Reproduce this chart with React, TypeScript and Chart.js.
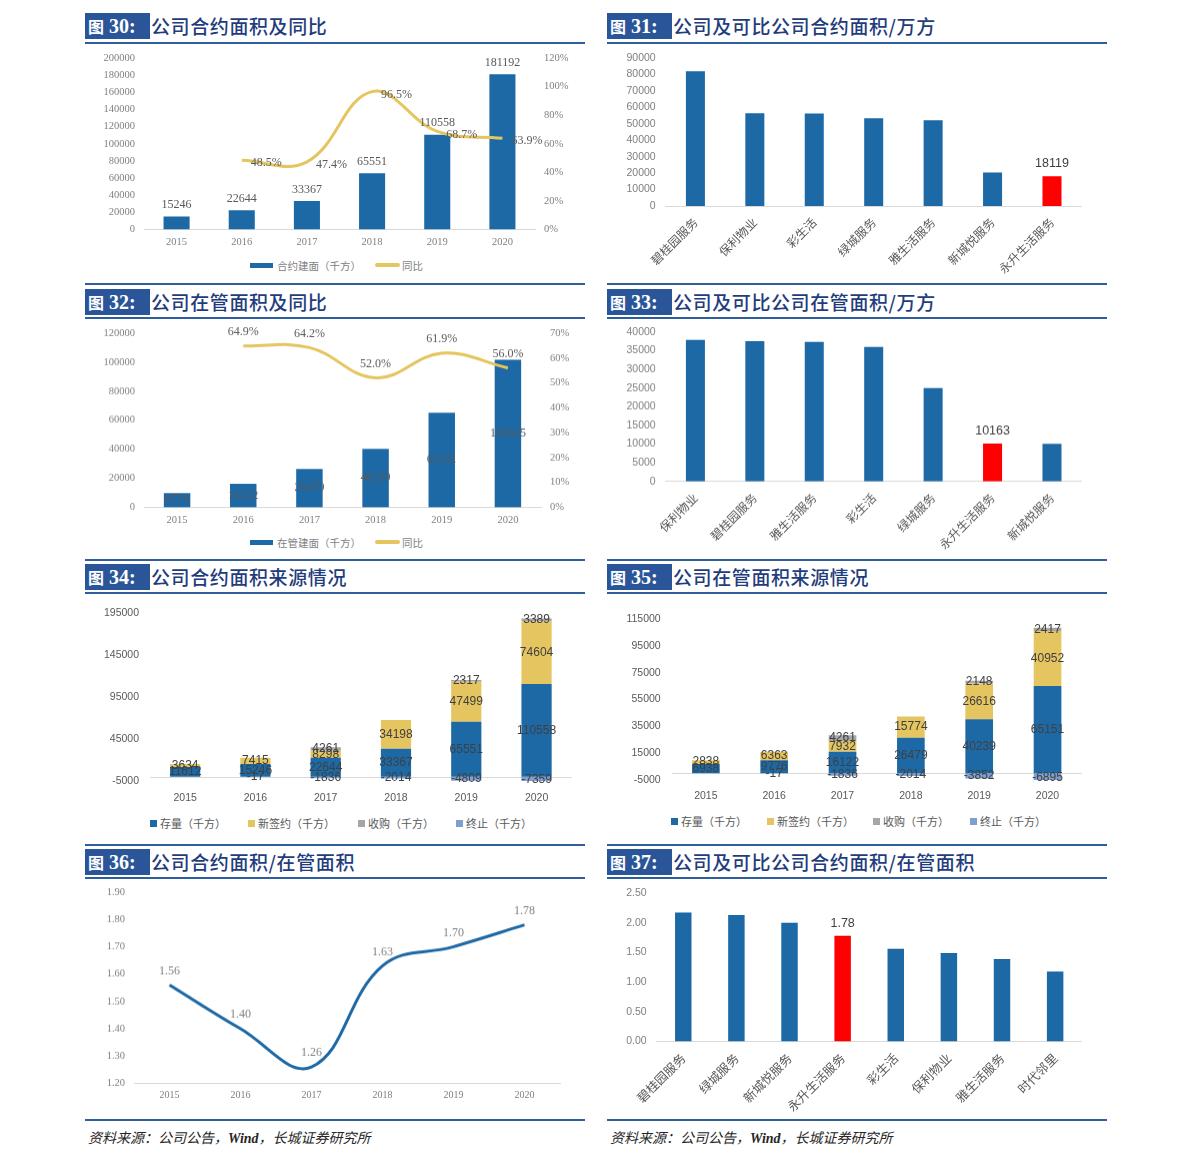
import React, { useEffect, useRef } from 'react';
import { Chart, registerables } from 'chart.js';

Chart.register(...registerables);

// ---------------- data ----------------
const YEARS = ['2015', '2016', '2017', '2018', '2019', '2020'];

const C30_AREA = [15246, 22644, 33367, 65551, 110558, 181192];
const C30_YOY = [null, 48.5, 47.4, 96.5, 68.7, 63.9];

const C31_COMPANIES = ['碧桂园服务', '保利物业', '彩生活', '绿城服务', '雅生活服务', '新城悦服务', '永升生活服务'];
const C31_VALUES = [82000, 56400, 56200, 53300, 52100, 20300, 18119];

const C32_AREA = [9776, 16122, 26479, 40239, 65151, 101625];
const C32_YOY = [null, 64.9, 64.2, 52.0, 61.9, 56.0];

const C33_COMPANIES = ['保利物业', '碧桂园服务', '雅生活服务', '彩生活', '绿城服务', '永升生活服务', '新城悦服务'];
const C33_VALUES = [37900, 37600, 37400, 36000, 25000, 10163, 10100];

const C34_STOCK = [11612, 15246, 22644, 33367, 65551, 110558];
const C34_NEW = [3634, 7415, 8298, 34198, 47499, 74604];
const C34_ACQ = [0, 0, 4261, 0, 2317, 3389];
const C34_END = [0, -17, -1836, -2014, -4809, -7359];

const C35_STOCK = [6938, 9776, 16122, 26479, 40239, 65151];
const C35_NEW = [2838, 6363, 7932, 15774, 26616, 40952];
const C35_ACQ = [0, 0, 4261, 0, 2148, 2417];
const C35_END = [0, -17, -1836, -2014, -3852, -6895];

const C36_RATIO = [1.56, 1.40, 1.26, 1.63, 1.70, 1.78];

const C37_COMPANIES = ['碧桂园服务', '绿城服务', '新城悦服务', '永升生活服务', '彩生活', '保利物业', '雅生活服务', '时代邻里'];
const C37_VALUES = [2.17, 2.13, 2.00, 1.78, 1.56, 1.49, 1.39, 1.18];

const HIGHLIGHT = '永升生活服务';

const SERIES_STOCK = '存量（千方）';
const SERIES_NEW = '新签约（千方）';
const SERIES_ACQ = '收购（千方）';
const SERIES_END = '终止（千方）';

// ---------------- styles ----------------
const BLUE = '#1D69A6';
const YELLOW = '#E5C560';
const GREY = '#A6A6A6';
const LIGHTBLUE = '#7F9FD1';
const RED = '#FF0000';
const AXIS = '#D9D9D9';
const TICK = '#808080';
const TITLE_BG = '#2A5699';
const TITLE_FG = '#1F3D7C';
const RULE = '#2F5E9F';

const SERIF = '"Liberation Serif", "Noto Sans CJK SC", serif';
const SANS = '"Liberation Sans", "Noto Sans CJK SC", sans-serif';
const CJK = '"Noto Sans CJK SC", sans-serif';

// ---------------- plugins ----------------
const valueLabels = {
  id: 'valueLabels',
  afterDatasetsDraw(chart: any) {
    const ctx = chart.ctx;
    chart.data.datasets.forEach((ds: any, di: number) => {
      const cfg = ds.valueLabels;
      if (!cfg) return;
      const meta = chart.getDatasetMeta(di);
      meta.data.forEach((el: any, i: number) => {
        const v = ds.data[i];
        if (v === null || v === undefined || v === 0) return;
        if (cfg.only && cfg.only.indexOf(i) < 0) return;
        const p = el.getProps(['x', 'y', 'base'], true);
        const text = cfg.format ? cfg.format(v) : String(v);
        ctx.save();
        ctx.font = cfg.font;
        ctx.fillStyle = cfg.color;
        ctx.textBaseline = 'middle';
        let x = p.x;
        let y = p.y;
        if (cfg.mode === 'top') {
          ctx.textAlign = 'center';
          y = p.y - cfg.offset;
        } else if (cfg.mode === 'center') {
          ctx.textAlign = 'center';
          y = (p.y + p.base) / 2;
        } else if (cfg.mode === 'right') {
          ctx.textAlign = 'left';
          x = p.x + cfg.offset;
          y = p.y + (cfg.dy || 0);
        } else {
          ctx.textAlign = 'center';
          y = p.y - cfg.offset;
        }
        ctx.fillText(text, x, y);
        ctx.restore();
      });
    });
  },
};

const zeroLine = {
  id: 'zeroLine',
  beforeDatasetsDraw(chart: any) {
    const { ctx, chartArea, scales } = chart;
    const y = Math.round(scales.y.getPixelForValue(0)) + 0.5;
    ctx.save();
    ctx.strokeStyle = AXIS;
    ctx.lineWidth = 1;
    ctx.beginPath();
    ctx.moveTo(chartArea.left, y);
    ctx.lineTo(chartArea.right, y);
    ctx.stroke();
    ctx.restore();
  },
};

// ---------------- geometry helpers ----------------
// L/W: canvas left & width, B: canvas bottom; pl/pt/pr/pb: plot area edges (page px)
type Geo = { L: number; W: number; B: number; pl: number; pt: number; pr: number; pb: number };
const TOP_ROOM = 18;

function box(g: Geo) {
  const T = g.pt - TOP_ROOM;
  return { L: g.L, T, W: g.W, H: g.B - T };
}

function dims(g: Geo, rightAxis: boolean) {
  return {
    padding: { top: TOP_ROOM, left: 0, bottom: 0, right: rightAxis ? 0 : g.L + g.W - g.pr },
    yW: g.pl - g.L,
    y1W: g.L + g.W - g.pr,
    xH: g.B - g.pb,
  };
}

const G30: Geo = { L: 85, W: 500, B: 255, pl: 144, pt: 57.7, pr: 535, pb: 229.3 };
const G31: Geo = { L: 607, W: 500, B: 280, pl: 665.7, pt: 57.7, pr: 1081.7, pb: 205.7 };
const G32: Geo = { L: 85, W: 500, B: 530, pl: 144, pt: 333.3, pr: 541, pb: 506.7 };
const G33: Geo = { L: 607, W: 500, B: 558, pl: 665.7, pt: 332.3, pr: 1081.7, pb: 481 };
const G34: Geo = { L: 85, W: 500, B: 807, pl: 150, pt: 612.7, pr: 571.7, pb: 780.7 };
const G35: Geo = { L: 607, W: 500, B: 807, pl: 671.7, pt: 619, pr: 1081.7, pb: 780 };
const G36: Geo = { L: 85, W: 500, B: 1105, pl: 134, pt: 892.3, pr: 560, pb: 1082.7 };
const G37: Geo = { L: 607, W: 500, B: 1118, pl: 656.7, pt: 892.7, pr: 1081.7, pb: 1041.3 };

const baseOptions = (padding: any) => ({
  responsive: true,
  maintainAspectRatio: false,
  animation: false as const,
  layout: { padding },
  plugins: { legend: { display: false }, tooltip: { enabled: false } },
});

const plain = (v: any) => String(v);

// ---------------- chart configs ----------------
function comboConfig(g: Geo, area: number[], yoy: (number | null)[], areaLabel: string, yMax: number, yStep: number, y1Max: number, barMode: string, lineMode: string, xPad: number) {
  const d = dims(g, true);
  return {
    type: 'bar',
    data: {
      labels: YEARS,
      datasets: [
        {
          type: 'line',
          label: '同比',
          data: yoy,
          yAxisID: 'y1',
          borderColor: YELLOW,
          backgroundColor: YELLOW,
          borderWidth: 3,
          tension: 0.4,
          pointRadius: 0,
          fill: false,
          order: 0,
          valueLabels: lineMode === 'right'
            ? { mode: 'right', offset: 9, dy: 3, font: `12px ${SERIF}`, color: '#595959', format: (v: number) => v.toFixed(1) + '%' }
            : { mode: 'above', offset: 14, font: `12px ${SERIF}`, color: '#595959', format: (v: number) => v.toFixed(1) + '%' },
        },
        {
          type: 'bar',
          label: areaLabel,
          data: area,
          yAxisID: 'y',
          backgroundColor: BLUE,
          categoryPercentage: 1,
          barPercentage: 0.4,
          order: 1,
          valueLabels: barMode === 'top'
            ? { mode: 'top', offset: 11.5, font: `12px ${SERIF}`, color: '#595959' }
            : { mode: 'center', font: `12px ${SERIF}`, color: '#5a5a5a' },
        },
      ],
    },
    options: {
      ...baseOptions(d.padding),
      scales: {
        x: {
          offset: true,
          grid: { display: false, drawTicks: false },
          border: { display: true, color: AXIS },
          ticks: { font: { family: SERIF, size: 10.5 }, color: TICK, padding: xPad },
          afterFit: (s: any) => { s.height = d.xH; },
        },
        y: {
          position: 'left',
          min: 0,
          max: yMax,
          grid: { display: false, drawTicks: false },
          border: { display: false },
          ticks: { stepSize: yStep, font: { family: SERIF, size: 10.5 }, color: TICK, padding: 9, callback: plain },
          afterFit: (s: any) => { s.width = d.yW; },
        },
        y1: {
          position: 'right',
          min: 0,
          max: y1Max,
          grid: { display: false, drawTicks: false },
          border: { display: false },
          ticks: { stepSize: 10 * Math.round(y1Max / 60), font: { family: SERIF, size: 10.5 }, color: TICK, padding: 9, callback: (v: any) => v + '%' },
          afterFit: (s: any) => { s.width = d.y1W; },
        },
      },
    },
    plugins: [valueLabels],
  };
}

function rankConfig(g: Geo, companies: string[], values: number[], yMax: number, yStep: number, barPct: number, fmt: (v: number) => string, fontSize: number) {
  const d = dims(g, false);
  const hi = companies.indexOf(HIGHLIGHT);
  return {
    type: 'bar',
    data: {
      labels: companies,
      datasets: [
        {
          label: '',
          data: values,
          backgroundColor: companies.map((c) => (c === HIGHLIGHT ? RED : BLUE)),
          categoryPercentage: 1,
          barPercentage: barPct,
          valueLabels: { mode: 'top', offset: 12.5, only: [hi], font: `12.5px ${SANS}`, color: '#404040', format: fmt },
        },
      ],
    },
    options: {
      ...baseOptions(d.padding),
      scales: {
        x: {
          grid: { display: false, drawTicks: false },
          border: { display: true, color: AXIS },
          ticks: { font: { family: CJK, size: fontSize }, color: '#595959', padding: 9, minRotation: 45, maxRotation: 45, autoSkip: false },
          afterFit: (s: any) => { s.height = d.xH; },
        },
        y: {
          min: 0,
          max: yMax,
          grid: { display: false, drawTicks: false },
          border: { display: false },
          ticks: { stepSize: yStep, font: { family: SANS, size: 10.5 }, color: TICK, padding: 10, callback: (v: any) => fmt(Number(v)) },
          afterFit: (s: any) => { s.width = d.yW; },
        },
      },
    },
    plugins: [valueLabels],
  };
}

function sourceConfig(g: Geo, stock: number[], neu: number[], acq: number[], end: number[], yMax: number, yStep: number, barPct: number, xPad: number) {
  const d = dims(g, false);
  const lbl = { mode: 'center', font: `12px ${SANS}`, color: '#404040' };
  const mk = (label: string, data: number[], color: string) => ({
    label, data, backgroundColor: color, stack: 's', categoryPercentage: 1, barPercentage: barPct, valueLabels: lbl,
  });
  return {
    type: 'bar',
    data: {
      labels: YEARS,
      datasets: [
        mk(SERIES_STOCK, stock, BLUE),
        mk(SERIES_NEW, neu, YELLOW),
        mk(SERIES_ACQ, acq, GREY),
        mk(SERIES_END, end, LIGHTBLUE),
      ],
    },
    options: {
      ...baseOptions(d.padding),
      scales: {
        x: {
          stacked: true,
          grid: { display: false, drawTicks: false },
          border: { display: false },
          ticks: { font: { family: SANS, size: 10.5 }, color: '#595959', padding: xPad },
          afterFit: (s: any) => { s.height = d.xH; },
        },
        y: {
          stacked: true,
          min: -5000,
          max: yMax,
          grid: { display: false, drawTicks: false },
          border: { display: false },
          ticks: { stepSize: yStep, font: { family: SANS, size: 10.5 }, color: '#595959', padding: 11, callback: plain },
          afterFit: (s: any) => { s.width = d.yW; },
        },
      },
    },
    plugins: [zeroLine, valueLabels],
  };
}

function ratioLineConfig(g: Geo) {
  const d = dims(g, false);
  return {
    type: 'line',
    data: {
      labels: YEARS,
      datasets: [
        {
          label: '合约面积/在管面积',
          data: C36_RATIO,
          borderColor: BLUE,
          backgroundColor: BLUE,
          borderWidth: 3,
          tension: 0.4,
          pointRadius: 0,
          fill: false,
          valueLabels: { mode: 'above', offset: 14, font: `12px ${SERIF}`, color: '#808080', format: (v: number) => v.toFixed(2) },
        },
      ],
    },
    options: {
      ...baseOptions(d.padding),
      scales: {
        x: {
          offset: true,
          grid: { display: false, drawTicks: false },
          border: { display: true, color: AXIS },
          ticks: { font: { family: SERIF, size: 10 }, color: TICK, padding: 6 },
          afterFit: (s: any) => { s.height = d.xH; },
        },
        y: {
          min: 1.2,
          max: 1.9,
          grid: { display: false, drawTicks: false },
          border: { display: false },
          ticks: { stepSize: 0.1, font: { family: SERIF, size: 10.5 }, color: TICK, padding: 9, callback: (v: any) => Number(v).toFixed(2) },
          afterFit: (s: any) => { s.width = d.yW; },
        },
      },
    },
    plugins: [valueLabels],
  };
}

// ---------------- components ----------------
function ChartBox({ g, build }: { g: Geo; build: () => any }) {
  const ref = useRef<HTMLCanvasElement>(null);
  const b = box(g);
  useEffect(() => {
    if (!ref.current) return;
    const chart = new Chart(ref.current, build());
    return () => chart.destroy();
  }, []);
  return (
    <div style={{ position: 'absolute', left: b.L, top: b.T, width: b.W, height: b.H }}>
      <canvas ref={ref} />
    </div>
  );
}

function Title({ x, y, num, text }: { x: number; y: number; num: string; text: string }) {
  return (
    <div style={{ position: 'absolute', left: x, top: y, height: 26, display: 'flex', alignItems: 'center', whiteSpace: 'nowrap' }}>
      <div style={{ width: 65, height: 26, background: TITLE_BG, color: '#fff', display: 'flex', alignItems: 'center', paddingLeft: 3, boxSizing: 'border-box' }}>
        <span style={{ fontFamily: CJK, fontSize: 16, fontWeight: 700 }}>图</span>
        <span style={{ fontFamily: '"Liberation Serif", serif', fontSize: 20, fontWeight: 700, marginLeft: 5 }}>{num}:</span>
      </div>
      <div style={{ fontFamily: CJK, fontSize: 19, fontWeight: 500, color: TITLE_FG, letterSpacing: 0.6, marginLeft: 1, lineHeight: '26px' }}>{text}</div>
    </div>
  );
}

function Rule({ x, y, w }: { x: number; y: number; w: number }) {
  return <div style={{ position: 'absolute', left: x, top: y, width: w, height: 2, background: RULE }} />;
}

type LegendItem = { x: number; kind: 'rect' | 'line' | 'square'; color: string; text: string };

function Legend({ y, items, color, size }: { y: number; items: LegendItem[]; color: string; size: number }) {
  return (
    <>
      {items.map((it, i) => {
        const sw = it.kind === 'rect' ? { w: 23, h: 5, m: 4 } : it.kind === 'line' ? { w: 25, h: 3.5, m: 2 } : { w: 7, h: 7, m: 3 };
        return (
          <div key={i} style={{ position: 'absolute', left: it.x, top: y - 10, height: 20, display: 'flex', alignItems: 'center', whiteSpace: 'nowrap', fontFamily: CJK, fontSize: size, color }}>
            <span style={{ display: 'inline-block', width: sw.w, height: sw.h, background: it.color, marginRight: sw.m, borderRadius: it.kind === 'line' ? 2 : 0 }} />
            <span>{it.text}</span>
          </div>
        );
      })}
    </>
  );
}

function Source({ x, y }: { x: number; y: number }) {
  return (
    <div style={{ position: 'absolute', left: x, top: y, fontFamily: CJK, fontStyle: 'italic', fontSize: 14, color: '#262626', whiteSpace: 'nowrap', lineHeight: '18px' }}>
      资料来源：公司公告，<span style={{ fontFamily: '"Liberation Serif", serif', fontWeight: 700 }}>Wind</span>，长城证券研究所
    </div>
  );
}

export default function App() {
  const LX = 85;
  const RX = 607;
  const PW = 500;
  return (
    <div style={{ position: 'absolute', left: 0, top: 0, width: 1191, height: 1165, background: '#fff', overflow: 'hidden' }}>
      {/* frame rules */}
      <Rule x={LX} y={42} w={PW} />
      <Rule x={RX} y={42} w={PW} />
      <Rule x={LX} y={283} w={PW} />
      <Rule x={RX} y={283} w={PW} />
      <Rule x={LX} y={317} w={PW} />
      <Rule x={RX} y={317} w={PW} />
      <Rule x={LX} y={559} w={PW} />
      <Rule x={RX} y={559} w={PW} />
      <Rule x={LX} y={592} w={PW} />
      <Rule x={RX} y={592} w={PW} />
      <Rule x={LX} y={844} w={PW} />
      <Rule x={RX} y={844} w={PW} />
      <Rule x={LX} y={877} w={PW} />
      <Rule x={RX} y={877} w={PW} />
      <Rule x={LX} y={1119} w={PW} />
      <Rule x={RX} y={1119} w={PW} />

      <Title x={LX} y={13} num="30" text="公司合约面积及同比" />
      <Title x={RX} y={13} num="31" text="公司及可比公司合约面积/万方" />
      <Title x={LX} y={289} num="32" text="公司在管面积及同比" />
      <Title x={RX} y={289} num="33" text="公司及可比公司在管面积/万方" />
      <Title x={LX} y={564} num="34" text="公司合约面积来源情况" />
      <Title x={RX} y={564} num="35" text="公司在管面积来源情况" />
      <Title x={LX} y={849} num="36" text="公司合约面积/在管面积" />
      <Title x={RX} y={849} num="37" text="公司及可比公司合约面积/在管面积" />

      <ChartBox g={G30} build={() => comboConfig(G30, C30_AREA, C30_YOY, '合约建面（千方）', 200000, 20000, 120, 'top', 'right', 6.5)} />
      <Legend y={265} color="#7f7f7f" size={10.5} items={[
        { x: 250, kind: 'rect', color: BLUE, text: '合约建面（千方）' },
        { x: 375, kind: 'line', color: YELLOW, text: '同比' },
      ]} />

      <ChartBox g={G31} build={() => rankConfig(G31, C31_COMPANIES, C31_VALUES, 90000, 10000, 0.32, (v) => String(Math.round(v)), 12)} />

      <ChartBox g={G32} build={() => comboConfig(G32, C32_AREA, C32_YOY, '在管建面（千方）', 120000, 20000, 70, 'center', 'above', 7)} />
      <Legend y={542} color="#7f7f7f" size={10.5} items={[
        { x: 250, kind: 'rect', color: BLUE, text: '在管建面（千方）' },
        { x: 375, kind: 'line', color: YELLOW, text: '同比' },
      ]} />

      <ChartBox g={G33} build={() => rankConfig(G33, C33_COMPANIES, C33_VALUES, 40000, 5000, 0.32, (v) => String(Math.round(v)), 12)} />

      <ChartBox g={G34} build={() => sourceConfig(G34, C34_STOCK, C34_NEW, C34_ACQ, C34_END, 195000, 50000, 0.43, 11)} />
      <Legend y={823} color="#595959" size={11} items={[
        { x: 150, kind: 'square', color: BLUE, text: SERIES_STOCK },
        { x: 248, kind: 'square', color: YELLOW, text: SERIES_NEW },
        { x: 358, kind: 'square', color: GREY, text: SERIES_ACQ },
        { x: 456, kind: 'square', color: LIGHTBLUE, text: SERIES_END },
      ]} />

      <ChartBox g={G35} build={() => sourceConfig(G35, C35_STOCK, C35_NEW, C35_ACQ, C35_END, 115000, 20000, 0.405, 9.5)} />
      <Legend y={821} color="#595959" size={11} items={[
        { x: 671, kind: 'square', color: BLUE, text: SERIES_STOCK },
        { x: 767, kind: 'square', color: YELLOW, text: SERIES_NEW },
        { x: 873, kind: 'square', color: GREY, text: SERIES_ACQ },
        { x: 970, kind: 'square', color: LIGHTBLUE, text: SERIES_END },
      ]} />

      <ChartBox g={G36} build={() => ratioLineConfig(G36)} />

      <ChartBox g={G37} build={() => rankConfig(G37, C37_COMPANIES, C37_VALUES, 2.5, 0.5, 0.31, (v) => v.toFixed(2), 12.5)} />

      <Source x={88} y={1128} />
      <Source x={610} y={1128} />
    </div>
  );
}
